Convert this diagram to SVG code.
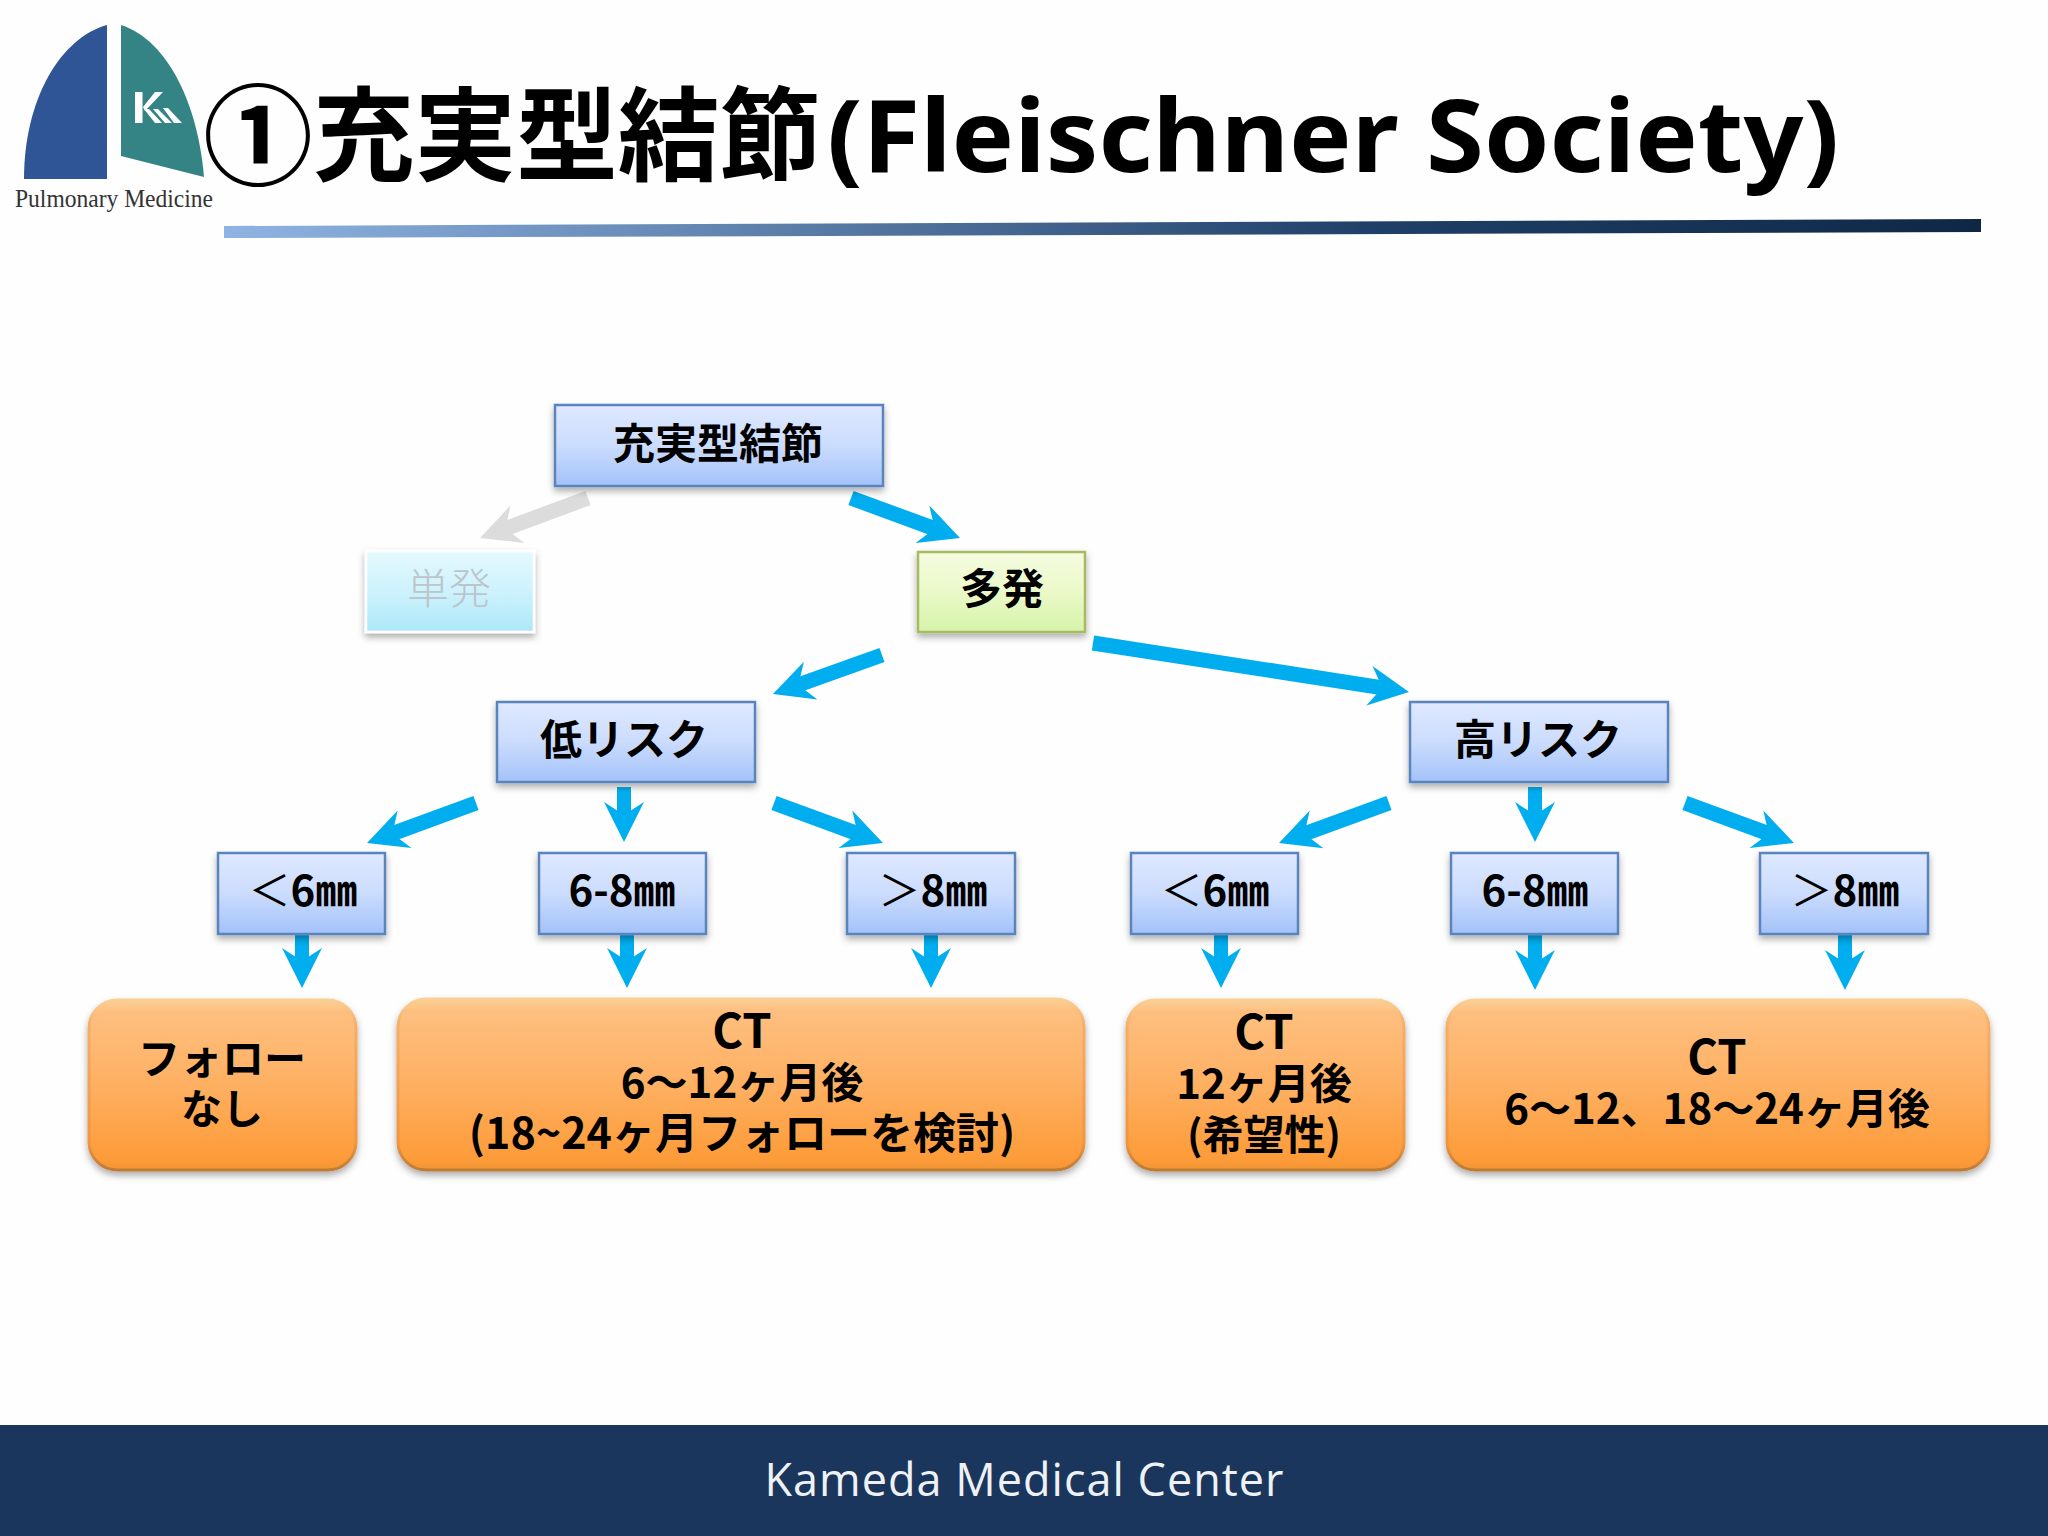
<svg xmlns="http://www.w3.org/2000/svg" width="2048" height="1536" viewBox="0 0 2048 1536">
<style>
text{font-family:"Noto Sans CJK JP","Noto Sans",sans-serif;font-weight:700;fill:#000;text-anchor:middle}
.n{font-size:42px}
.o{font-size:41px}
.ct{font-size:47px}
.lt{font-weight:400}
.cy{fill:url(#blue);stroke:#5a84bb;stroke-width:2.5}
.or{fill:url(#orange);stroke:url(#rim);stroke-width:3}
.ar{stroke:#00aeef;stroke-width:15;fill:none;marker-end:url(#head)}
.gr{stroke:#dcdcdc;stroke-width:15;fill:none;marker-end:url(#headg)}
.v{stroke-width:14}
</style>
<defs>
<linearGradient id="blue" x1="0" y1="0" x2="0" y2="1"><stop offset="0" stop-color="#dfe9ff"/><stop offset=".5" stop-color="#cbdcfd"/><stop offset="1" stop-color="#a3c2f9"/></linearGradient>
<linearGradient id="green" x1="0" y1="0" x2="0" y2="1"><stop offset="0" stop-color="#f5fce0"/><stop offset=".5" stop-color="#ebf9c9"/><stop offset="1" stop-color="#d6f3a9"/></linearGradient>
<linearGradient id="cyan" x1="0" y1="0" x2="0" y2="1"><stop offset="0" stop-color="#e4f9fe"/><stop offset=".5" stop-color="#cdf2fc"/><stop offset="1" stop-color="#ade8f9"/></linearGradient>
<linearGradient id="orange" x1="0" y1="0" x2="0" y2="1"><stop offset="0" stop-color="#fbd095"/><stop offset=".07" stop-color="#febf7f"/><stop offset=".5" stop-color="#feb062"/><stop offset=".94" stop-color="#fd9b38"/><stop offset="1" stop-color="#f19535"/></linearGradient>
<linearGradient id="rim" x1="0" y1="0" x2="0" y2="1"><stop offset="0" stop-color="#f9cf93"/><stop offset=".15" stop-color="#f5ae68"/><stop offset=".85" stop-color="#ee9540"/><stop offset="1" stop-color="#bd7a35"/></linearGradient>
<linearGradient id="bar" x1="0" y1="0" x2="1" y2="0"><stop offset="0" stop-color="#8fb4e3"/><stop offset=".3" stop-color="#5f82ad"/><stop offset=".65" stop-color="#1f4068"/><stop offset="1" stop-color="#0f2745"/></linearGradient>
<filter id="sh" x="-10%" y="-10%" width="120%" height="130%"><feDropShadow dx="0" dy="4" stdDeviation="3.5" flood-color="#000" flood-opacity=".32"/></filter>
<marker id="head" markerUnits="userSpaceOnUse" markerWidth="44" markerHeight="44" refX="20" refY="22" orient="auto" overflow="visible"><path d="M0,2 L40,22 L0,42 L13,22 Z" fill="#00aeef"/></marker>
<marker id="headg" markerUnits="userSpaceOnUse" markerWidth="44" markerHeight="44" refX="20" refY="22" orient="auto" overflow="visible"><path d="M0,2 L40,22 L0,42 L13,22 Z" fill="#dcdcdc"/></marker>
</defs>
<rect width="2048" height="1536" fill="#fefefe"/>

<g id="logo">
<path d="M107,25 C60,38 24,100 24,179 L107,179 Z" fill="#2f5596"/>
<path d="M121,25 C168,40 198,105 204,177 L121,156 Z" fill="#348486"/>
<path d="M135,92 H142.500 V123 H135 Z M155,92 H163 L145,111 L143,107 Z M144,109 H149 L162,123 H155 Z M153,109 H158 L172,123 H165 Z M163,108 H168 L182,123 H174 Z" fill="#fff"/>
<text x="114" y="207" textLength="198" lengthAdjust="spacingAndGlyphs" style="font-family:'Liberation Serif',serif;font-weight:400;font-size:25px;fill:#333">Pulmonary Medicine</text>
</g>

<g id="title">
<text x="203" y="177" style="font-size:110px;text-anchor:start">①</text>
<text x="313" y="173" style="font-size:102px;text-anchor:start" textLength="508" lengthAdjust="spacingAndGlyphs">充実型結節</text>
<text x="827" y="172" style="font-size:100px;text-anchor:start;font-family:'Noto Sans',sans-serif" textLength="1012" lengthAdjust="spacingAndGlyphs">(Fleischner Society)</text>
<polygon points="224,226 1981,219 1981,232 224,238" fill="url(#bar)"/>
</g>

<g id="connectors">
<line class="gr" x1="588" y1="498" x2="498.8" y2="531.1"/>
<line class="ar" x1="851" y1="498" x2="941.2" y2="531.1"/>
<line class="ar" x1="882" y1="655" x2="791.8" y2="687.3"/>
<line class="ar" x1="1093" y1="643" x2="1389.2" y2="688.9"/>
<line class="ar" x1="476" y1="803" x2="385.8" y2="836.1"/>
<line class="ar v" x1="624" y1="787" x2="624" y2="822"/>
<line class="ar" x1="774" y1="803" x2="864.2" y2="836.1"/>
<line class="ar" x1="1389" y1="803" x2="1297.8" y2="836.2"/>
<line class="ar v" x1="1535" y1="787" x2="1535" y2="822"/>
<line class="ar" x1="1685" y1="803" x2="1775.2" y2="836.1"/>
<line class="ar v" x1="302" y1="933" x2="302" y2="968"/>
<line class="ar v" x1="627" y1="933" x2="627" y2="968"/>
<line class="ar v" x1="931" y1="933" x2="931" y2="968"/>
<line class="ar v" x1="1221" y1="933" x2="1221" y2="968"/>
<line class="ar v" x1="1535" y1="934" x2="1535" y2="970"/>
<line class="ar v" x1="1845" y1="934" x2="1845" y2="970"/>
</g>

<g id="n-root"><rect class="cy" x="555" y="405" width="328" height="81" filter="url(#sh)"/><text class="n" x="718" y="459">充実型結節</text></g>
<g id="n-single"><rect x="366" y="551" width="168" height="81" fill="url(#cyan)" stroke="#fff" stroke-width="2.5" filter="url(#sh)"/><text class="n" x="449" y="604" style="font-weight:300;fill:#bcc5cc">単発</text></g>
<g id="n-multi"><rect x="918" y="552" width="167" height="80" fill="url(#green)" stroke="#a5ba62" stroke-width="2.5" filter="url(#sh)"/><text class="n" x="1002" y="604">多発</text></g>
<g id="n-low"><rect class="cy" x="497" y="702" width="258" height="80" filter="url(#sh)"/><text class="n" x="624" y="755">低リスク</text></g>
<g id="n-high"><rect class="cy" x="1410" y="702" width="258" height="80" filter="url(#sh)"/><text class="n" x="1538" y="755">高リスク</text></g>
<g id="n-l1"><rect class="cy" x="218" y="853" width="167" height="81" filter="url(#sh)"/><text class="n" x="303" y="906"><tspan class="lt">＜</tspan>6㎜</text></g>
<g id="n-l2"><rect class="cy" x="539" y="853" width="167" height="81" filter="url(#sh)"/><text class="n" x="622" y="906">6-8㎜</text></g>
<g id="n-l3"><rect class="cy" x="847" y="853" width="168" height="81" filter="url(#sh)"/><text class="n" x="933" y="906"><tspan class="lt">＞</tspan>8㎜</text></g>
<g id="n-h1"><rect class="cy" x="1131" y="853" width="167" height="81" filter="url(#sh)"/><text class="n" x="1215" y="906"><tspan class="lt">＜</tspan>6㎜</text></g>
<g id="n-h2"><rect class="cy" x="1451" y="853" width="167" height="81" filter="url(#sh)"/><text class="n" x="1535" y="906">6-8㎜</text></g>
<g id="n-h3"><rect class="cy" x="1760" y="853" width="168" height="81" filter="url(#sh)"/><text class="n" x="1845" y="906"><tspan class="lt">＞</tspan>8㎜</text></g>

<g id="r1"><rect class="or" x="89" y="1000" width="267" height="170" rx="28" filter="url(#sh)"/><text class="o"><tspan x="222" y="1074" font-size="42">フォロー</tspan><tspan x="222" y="1124">なし</tspan></text></g>
<g id="r2"><rect class="or" x="398" y="999" width="686" height="171" rx="28" filter="url(#sh)"/><text class="o"><tspan class="ct" x="742" y="1048">CT</tspan><tspan x="742" y="1098" font-size="42">6〜12ヶ月後</tspan><tspan x="742" y="1149" font-size="43">(18~24ヶ月フォローを検討)</tspan></text></g>
<g id="r3"><rect class="or" x="1127" y="1000" width="277" height="170" rx="28" filter="url(#sh)"/><text class="o"><tspan class="ct" x="1264" y="1049">CT</tspan><tspan x="1264" y="1099" font-size="42">12ヶ月後</tspan><tspan x="1264" y="1150">(希望性)</tspan></text></g>
<g id="r4"><rect class="or" x="1447" y="1000" width="542" height="170" rx="28" filter="url(#sh)"/><text class="o"><tspan class="ct" x="1717" y="1074">CT</tspan><tspan x="1717" y="1124" font-size="42">6〜12、18〜24ヶ月後</tspan></text></g>

<g id="footer">
<rect x="0" y="1425" width="2048" height="111" fill="#1a365d"/>
<text x="1024" y="1496" textLength="519" lengthAdjust="spacing" style="font-family:'Open Sans',sans-serif;font-weight:400;font-size:45px;fill:#eef1f5">Kameda Medical Center</text>
</g>
</svg>
